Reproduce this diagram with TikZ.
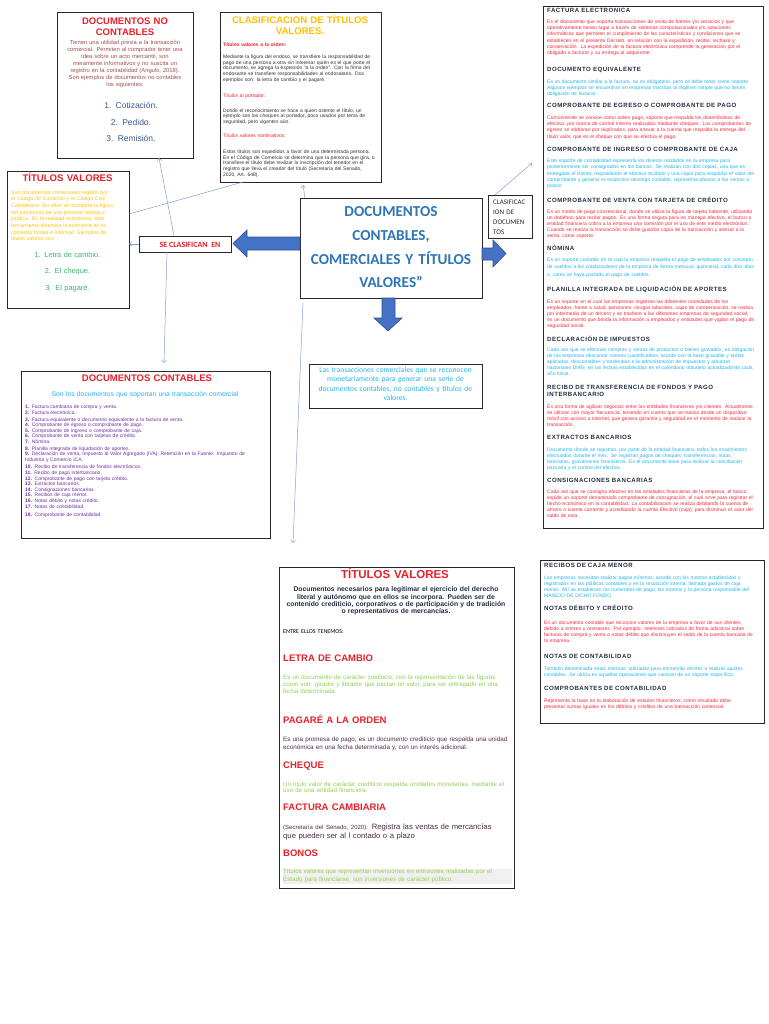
\documentclass[tikz,border=0pt]{standalone}
\usepackage{fontspec}
\setmainfont{Liberation Sans}
\newfontfamily\calib{Carlito}
\newfontfamily\headf[LetterSpace=8]{Liberation Sans}
\usetikzlibrary{arrows.meta}
\newcommand{\fsz}[2]{\fontsize{#1}{#2}\selectfont}
\definecolor{redT}{RGB}{232,32,42}
\definecolor{maroonB}{RGB}{160,80,80}
\definecolor{listB}{RGB}{60,90,140}
\definecolor{goldT}{RGB}{255,192,0}
\definecolor{grayB}{RGB}{50,50,50}
\definecolor{redS}{RGB}{240,30,40}
\definecolor{greenL}{RGB}{60,180,110}
\definecolor{ltBlue}{RGB}{40,180,235}
\definecolor{purp}{RGB}{112,48,160}
\definecolor{navyH}{RGB}{35,45,65}
\definecolor{bodyR}{RGB}{245,40,60}
\definecolor{bodyB}{RGB}{30,180,240}
\definecolor{cenB}{RGB}{46,117,182}
\definecolor{arrF}{RGB}{68,114,196}
\definecolor{arrD}{RGB}{47,82,143}
\definecolor{connC}{RGB}{130,160,210}
\definecolor{ltGreen}{RGB}{146,208,80}
\definecolor{darkM}{RGB}{80,45,70}
\definecolor{darkG}{RGB}{40,40,40}
\definecolor{bgGray}{RGB}{240,240,240}
\begin{document}
\begin{tikzpicture}[x=1pt,y=-1pt,
  box/.style={draw=darkG, line width=0.9pt, inner sep=0, outer sep=0, anchor=north west, fill=white},
  tl/.style={anchor=base west, inner sep=0, text width=#1, align=left},
  tc/.style={anchor=base, inner sep=0, text width=#1, align=center},
  rhead/.style={anchor=base west, inner sep=0, text width=218pt, align=left, font=\headf\bfseries\fsz{6.1}{7}, text=navyH},
  rbody/.style={anchor=base west, inner sep=0, text width=230pt, align=left, font=\fsz{5.0}{#1}},
  conn/.style={draw=connC, line width=0.5pt, -{Straight Barb[length=2.5pt,width=4.5pt]}},
  connp/.style={draw=connC, line width=0.5pt},
  blockarrow/.style={fill=arrF, draw=arrD, line width=0.6pt}
]
\useasboundingbox[fill=white] (0,0) rectangle (768,1024);

% ---------- Documentos no contables
\node[box, minimum width=136pt, minimum height=146pt] (b1) at (57,12) {};
\node[tc=130pt, font=\bfseries\fsz{9.5}{11.6}, text=redT] (b1t) at (125,24.1) {DOCUMENTOS NO\\CONTABLES};
\node[tc=134pt, font=\fsz{5.8}{7.05}, text=maroonB] (b1b) at (125,44.7) {Tienen una utilidad previa a la transacción\\comercial. Permiten al comprador tener una\\idea sobre un acto mercantil, son\\meramente informativos y no suscita un\\registro en la contabilidad (Angulo, 2018).\\Son ejemplos de documentos no contables\\los siguientes:};
\node[tc=100pt, font=\fsz{8.5}{16.5}, text=listB] (b1l) at (131,108.8) {1. Cotización.\\2. Pedido.\\3. Remisión.};

% ---------- Clasificacion de titulos valores
\node[box, minimum width=161pt, minimum height=170pt] (clas) at (220,12) {};
\node[tc=160pt, font=\bfseries\fsz{9.6}{11}, text=goldT] (clast) at (300,23.5) {CLASIFICACION DE TÍTULOS\\VALORES.};
\node[tl=160pt, font=\bfseries\fsz{5}{6}, text=redS] (cs1) at (223,46.5) {Títulos valores a la orden:};
\node[tl=160pt, font=\fsz{5}{5.8}, text=grayB] (cp1) at (223,58.4) {Mediante la figura del endoso, se transfiere la responsabilidad de\\pago de una persona a otra sin interesar quién es el que porte el\\documento, se agrega la expresión “a la orden”. Con la firma del\\endosante se transfiere responsabilidades al endosatario. Dos\\ejemplos son: la letra de cambio y el pagaré.};
\node[tl=160pt, font=\fsz{5}{6}, text=redS] (cs2) at (223,97.5) {Títulos al portador:};
\node[tl=160pt, font=\fsz{5}{5.8}, text=grayB] (cp2) at (223,112.1) {Donde el reconocimiento se hace a quien ostente el título, un\\ejemplo son los cheques al portador, poco usados por tema de\\seguridad, pero vigentes aún.};
\node[tl=160pt, font=\fsz{5}{6}, text=redS] (cs3) at (223,137.5) {Títulos valores nominativos:};
\node[tl=160pt, font=\fsz{5}{5.8}, text=grayB] (cp3) at (223,153.4) {Estos títulos son expedidos a favor de una determinada persona.\\En el Código de Comercio se determina que la persona que gira, o\\transfiere el título debe realizar la inscripción del tenedor en el\\registro que lleva el creador del título (Secretaría del Senado,\\2020, Art. 648).};

% ---------- Titulos valores (left)
\node[box, minimum width=122pt, minimum height=137pt] (tv) at (7,171) {};
\node[tc=120pt, font=\bfseries\fsz{9.6}{11}, text=redT] (tvt) at (67.5,181.5) {TÍTULOS VALORES};
\node[tl=118pt, font=\fsz{5.2}{6.67}, text=goldT] (tvb) at (11,194.3) {Son documentos comerciales regidos por\\el Código de Comercio y el Código Civil\\Colombiano. En ellos se incorpora la figura\\del patrimonio de una persona natural o\\jurídica. En la realidad económica, esta\\herramienta dinamiza la economía en el\\comercio formal e informal. Ejemplos de\\títulos valores son:};
\node[tc=100pt, font=\fsz{7.4}{16.5}, text=greenL] (tvl) at (67.5,257.4) {1. Letra de cambio.\\2. El cheque.\\3. El pagaré.};

% ---------- Se clasifican en
\node[box, minimum width=92pt, minimum height=16pt] (sec) at (139,236) {};
\node[inner sep=0, font=\calib\bfseries\fsz{8}{9}, text=redT] (sect) at (190,244.5) {SE CLASIFICAN\ \ EN};

% ---------- Central
\node[box, minimum width=182pt, minimum height=100pt] (cen) at (300,198) {};
\node[tc=180pt, font=\calib\bfseries\fsz{15.2}{23.7}, text=cenB] (cent) at (391,216.8) {DOCUMENTOS\\CONTABLES,\\COMERCIALES Y TÍTULOS\\VALORES”};

% block arrows
\draw[blockarrow] (300,237) -- (247,237) -- (247,230) -- (233,243.5) -- (247,257) -- (247,250) -- (300,250) -- cycle;
\draw[blockarrow] (482,248) -- (493,248) -- (493,240) -- (506,253.5) -- (493,267) -- (493,260) -- (482,260) -- cycle;
\draw[blockarrow] (382,298) -- (382,318) -- (374,318) -- (388,331) -- (402,318) -- (395,318) -- (395,298) -- cycle;

% ---------- Clasificacion de documentos
\node[box, minimum width=44pt, minimum height=43pt] (cd) at (488,195) {};
\node[tl=42pt, font=\calib\fsz{7}{10}, text=darkG] (cdt) at (493,204.3) {CLASIFICAC\\ION DE\\DOCUMEN\\TOS};

% ---------- Las transacciones
\node[box, minimum width=173pt, minimum height=44pt] (lt) at (309,364) {};
\node[tc=172pt, font=\calib\fsz{7.6}{9.3}, text=ltBlue] (ltt) at (395.5,372.5) {Las transacciones comerciales que se reconocen\\monetariamente para generar una serie de\\documentos contables, no contables y títulos de\\valores.};

% ---------- Documentos contables
\node[box, minimum width=249pt, minimum height=167pt] (dc) at (21,371) {};
\node[tc=240pt, font=\bfseries\fsz{9.5}{11}, text=redT] (dct) at (147,381.4) {DOCUMENTOS CONTABLES};
\node[tc=245pt, font=\fsz{6.8}{8}, text=ltBlue] (dcs) at (145,396.2) {Son los documentos que soportan una transacción comercial};
\node[tl=246pt, font=\fsz{5}{5.6}, text=purp] (dcl) at (25,408.4) {\textbf{1.} Factura cambiaria de compra y venta.\\
\textbf{2.} Factura electrónica.\\[1.5pt]
\textbf{3.} Factura equivalente o documento equivalente a la factura de venta.\\
\textbf{4.} Comprobante de egreso o comprobante de pago.\\
\textbf{5.} Comprobante de ingreso o comprobante de caja.\\
\textbf{6.} Comprobante de venta con tarjetas de crédito.\\
\textbf{7.} Nómina.\\[1pt]
\textbf{8.} Planilla integrada de liquidación de aportes.\\
\textbf{9.} Declaración de venta, Impuesto al Valor Agregado (IVA). Retención en la Fuente. Impuesto de\\
Industria y Comercio ICA.\\[2pt]
\textbf{10.} Recibo de transferencia de fondos electrónicos.\\
\textbf{11.} Recibo de pago interbancario.\\
\textbf{12.} Comprobante de pago con tarjeta crédito.\\
\textbf{13.} Extractos bancarios.\\
\textbf{14.} Consignaciones bancarias.\\
\textbf{15.} Recibos de caja menor.\\
\textbf{16.} Notas débito y notas crédito.\\
\textbf{17.} Notas de contabilidad.\\[3pt]
\textbf{18.} Comprobante de contabilidad.};

% ---------- Right column 1
\node[box, minimum width=220pt, minimum height=522pt] (rc) at (543,6) {};
\node[rhead] (h1) at (547,12.4) {FACTURA ELECTRONICA};
\node[rbody=6.3, text=bodyR] (p1) at (547,23.4) {Es el documento que soporta transacciones de venta de bienes y/o servicios y que\\operativamente tienen lugar a través de sistemas computacionales y/o soluciones\\informáticas que permiten el cumplimiento de las características y condiciones que se\\establecen en el presente Decreto, en relación con la expedición, recibo, rechazo y\\conservación. La expedición de la factura electrónica comprende la generación por el\\obligado a facturar y su entrega al adquirente.};
\node[rhead] (h2) at (547,71.8) {DOCUMENTO EQUIVALENTE};
\node[rbody=6, text=bodyB] (p2) at (547,83.4) {Es un documento similar a la factura, no es obligatorio, pero se debe tener como soporte.\\Algunos ejemplos se encuentran en empresas inscritas al régimen simple que no tienen\\obligación de facturar.};
\node[rhead] (h3) at (547,107.8) {COMPROBANTE DE EGRESO O COMPROBANTE DE PAGO};
\node[rbody=6.3, text=bodyR] (p3) at (547,119.4) {Comúnmente se conoce como orden pago, soporte que respalda los desembolsos de\\efectivo, por norma de control interno realizados mediante cheques. Los comprobantes de\\egreso se elaboran por duplicados, para anexar a la cuenta que respalda la entrega del\\título valor, que es el cheque con que se efectúa el pago.};
\node[rhead] (h4) at (547,151.8) {COMPROBANTE DE INGRESO O COMPROBANTE DE CAJA};
\node[rbody=6.3, text=bodyB] (p4) at (547,162.7) {Este soporte de contabilidad representa los dineros recibidos en la empresa para\\posteriormente ser consignados en los bancos. Se realizan con dos copias, una que es\\entregada al cliente, respaldando el efectivo recibido y una copia para respaldar el valor del\\comprobante y generar el respectivo devengo contable, representa abonos a las ventas a\\plazos.};
\node[rhead] (h5) at (547,202.1) {COMPROBANTE DE VENTA CON TARJETA DE CRÉDITO};
\node[rbody=5.9, text=bodyR] (p5) at (547,213.7) {Es un medio de pago convencional, donde se utiliza la figura de tarjeta habiente, utilizando\\un datáfono para recibir pagos. Es una forma segura para no manejar efectivo, el banco o\\entidad financiera cobra a la empresa una comisión por el uso de este medio electrónico.\\Cuando se realiza la transacción se debe guardar copia de la transacción y anexar a la\\venta, como soporte.};
\node[rhead] (h6) at (547,250.4) {NÓMINA};
\node[rbody=6.7, text=bodyB] (p6) at (547,261.4) {Es un soporte contable en el cual la empresa respalda el pago de empleados por concepto\\de sueldos a los colaboradores de la empresa de forma mensual, quincenal, cada diez días\\[1.6pt]o, como se haya pactado el pago de sueldos.};
\node[rhead] (h7) at (547,291.4) {PLANILLA INTEGRADA DE LIQUIDACIÓN DE APORTES};
\node[rbody=6.1, text=bodyR] (p7) at (547,303.1) {Es un soporte en el cual las empresas registran las diferentes novedades de los\\empleados, frente a salud, pensiones, riesgos laborales, cajas de compensación, se realiza\\por intermedio de un tercero y se trasfiere a las diferentes empresas de seguridad social,\\es un documento que brinda la información a empleados y entidades que vigilan el pago de\\seguridad social.};
\node[rhead] (h8) at (547,341.1) {DECLARACIÓN DE IMPUESTOS};
\node[rbody=6, text=bodyB] (p8) at (547,351.4) {Cada vez que se efectúan compras y ventas de productos o bienes gravados, es obligación\\de las empresas descontar valores cuantificables, acorde con la base gravable y tarifas\\aplicadas, descontables y trasferidas a la administración de impuestos y aduanas\\nacionales DIAN, en las fechas establecidas en el calendario tributario actualizado de cada\\año fiscal.};
\node[rhead] (h9) at (547,389.4) {RECIBO DE TRANSFERENCIA DE FONDOS Y PAGO\\INTERBANCARIO};
\node[rbody=6.1, text=bodyR] (p9) at (547,408.1) {Es una forma de agilizar negocios entre las entidades financieras y/o clientes. Actualmente\\se utilizan con mayor frecuencia, teniendo en cuenta que se realiza desde un dispositivo\\móvil con acceso a internet, que genera garantía y seguridad en el momento de realizar la\\transacción.};
\node[rhead] (h10) at (547,439.8) {EXTRACTOS BANCARIOS};
\node[rbody=5.9, text=bodyB] (p10) at (547,451.4) {Documento donde se registran, por parte de la entidad financiera, todos los movimientos\\efectuados durante el mes. Se registran pagos de cheques, transferencias, notas\\bancarias, gravámenes financieros. Es el documento base para realizar la conciliación\\bancaria y el control del efectivo.};
\node[rhead] (h11) at (547,482.4) {CONSIGNACIONES BANCARIAS};
\node[rbody=6, text=bodyR] (p11) at (547,493.7) {Cada vez que se consigna efectivo en las entidades financieras de la empresa, el banco\\expide un soporte denominado comprobante de consignación, el cual sirve para registrar el\\hecho económico en la contabilidad. La contabilización se realiza debitando la cuenta de\\ahorro o cuenta corriente y acreditando la cuenta Efectivo (caja), para disminuir el valor del\\saldo de esta.};

% ---------- Right column 2
\node[box, minimum width=224pt, minimum height=163pt] (rc2) at (540,560) {};
\node[rhead] (g1) at (544,567.1) {RECIBOS DE CAJA MENOR};
\node[rbody=6, text=bodyB] (q1) at (544,579.1) {Las empresas necesitan realizar pagos mínimos, acorde con los montos establecidos y\\registrados en las políticas contables y en la resolución interna, llamada gastos de caja\\menor. Allí se establecen los numerales de pago, los montos y la persona responsable del\\MANEJO DE DICHO FONDO};
\node[rhead] (g2) at (544,610.4) {NOTAS DÉBITO Y CRÉDITO};
\node[rbody=5.9, text=bodyR] (q2) at (544,624.7) {Es un documento contable que reconoce valores de la empresa a favor de sus clientes,\\debido a errores u omisiones. Por ejemplo: intereses cobrados de forma adicional sobre\\facturas de compra y venta o notas débito que disminuyen el saldo de la cuenta bancaria de\\la empresa.};
\node[rhead] (g3) at (544,658.8) {NOTAS DE CONTABILIDAD};
\node[rbody=6, text=bodyB] (q3) at (544,670.7) {También denominada notas internas, utilizadas para enmendar errores o realizar ajustes\\contables. Se utiliza en aquellas operaciones que carecen de un soporte específico.};
\node[rhead] (g4) at (544,690.4) {COMPROBANTES DE CONTABILIDAD};
\node[rbody=6, text=bodyR] (q4) at (544,702.1) {Representa la base en la elaboración de estados financieros, como resultado debe\\presentar sumas iguales en los débitos y créditos de una transacción comercial.};

% ---------- Titulos valores (bottom)
\node[box, minimum width=235pt, minimum height=321pt] (tb) at (279,567) {};
\fill[bgGray] (283,869) rectangle (512,884);
\node[tc=230pt, font=\bfseries\fsz{11.5}{13}, text=redT] (tbt) at (395,578.4) {TÍTULOS VALORES};
\node[tc=234pt, font=\bfseries\fsz{6.8}{7.4}, text=navyH] (tbd) at (396,591.7) {Documentos necesarios para legitimar el ejercicio del derecho\\literal y autónomo que en ellos se incorpora. Pueden ser de\\contenido crediticio, corporativos o de participación y de tradición\\o representativos de mercancías.};
\node[tl=200pt, font=\calib\fsz{6}{7}, text=black] (tbe) at (283,633.9) {ENTRE ELLOS TENEMOS:};
\node[tl=200pt, font=\bfseries\fsz{9.5}{11}, text=redT] (tbh1) at (283,661.4) {LETRA DE CAMBIO};
\node[tl=232pt, font=\fsz{6.2}{7}, text=ltGreen] (tbp1) at (283,679.8) {Es un documento de carácter crediticio, con la representación de las figuras\\como son: girador y librador que pactan un valor, para ser entregado en una\\fecha determinada.};
\node[tl=200pt, font=\bfseries\fsz{9.5}{11}, text=redT] (tbh2) at (283,723.7) {PAGARÉ A LA ORDEN};
\node[tl=232pt, font=\fsz{6.3}{7.3}, text=darkM] (tbp2) at (283,741.8) {Es una promesa de pago, es un documento crediticio que respalda una unidad\\económica en una fecha determinada y, con un interés adicional.};
\node[tl=200pt, font=\bfseries\fsz{9.5}{11}, text=redT] (tbh3) at (283,768.4) {CHEQUE};
\node[tl=232pt, font=\fsz{6.2}{6.7}, text=ltGreen] (tbp3) at (283,786.1) {Un título valor de carácter crediticio respalda unidades monetarias, mediante el\\uso de una entidad financiera.};
\node[tl=200pt, font=\bfseries\fsz{9.5}{11}, text=redT] (tbh4) at (283,810.7) {FACTURA CAMBIARIA};
\node[tl=232pt, font=\fsz{7.7}{9.3}, text=darkM] (tbp4) at (283,829.3) {{\fsz{6}{9.3}(Secretaría del Senado, 2020):} Registra las ventas de mercancías\\que pueden ser al l contado o a plazo};
\node[tl=200pt, font=\bfseries\fsz{9.5}{11}, text=redT] (tbh5) at (283,856.1) {BONOS};
\node[tl=232pt, font=\fsz{6.2}{8.3}, text=ltGreen] (tbp5) at (283,873.5) {Títulos valores que representan inversiones en emisiones realizadas por el\\Estado para financiarse, son inversiones de carácter público.};

% ---------- connectors
\coordinate (cdend) at (532,163);
\draw[conn] ([xshift=35pt]sec.north west) -- ([xshift=102pt]b1.south west);
\draw[conn] (sec.west) -- (sec.west -| tv.east);
\draw[conn] ([xshift=28pt]sec.south west) -- ([xshift=143pt,yshift=8pt]dc.north west);
\draw[connp] ([yshift=-43pt]tv.north east) -- ([xshift=23pt]clas.south west);
\draw[conn] ([xshift=5pt]cen.north west) -- ([xshift=83pt,yshift=-3pt]clas.south west);
\draw[conn] ([xshift=7pt]cd.north west) -- (cdend);
\draw[conn] ([xshift=3pt,yshift=-5pt]cen.south west) -- ([xshift=14pt,yshift=24pt]tb.north west);
\end{tikzpicture}
\end{document}
